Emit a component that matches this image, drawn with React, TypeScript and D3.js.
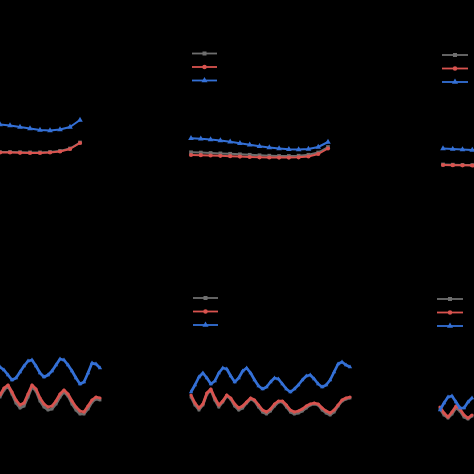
import React from "react";
import * as d3 from "d3";

// Series colours and marker shapes
const SERIES = ["gray", "red", "blue"] as const;
const COLORS: Record<string, string> = { gray: "#6e6e6e", red: "#d9534f", blue: "#3470d6" };
const SYMBOLS: Record<string, d3.SymbolType> = {
  gray: d3.symbolSquare,
  red: d3.symbolCircle,
  blue: d3.symbolTriangle,
};

// ---- Top row: smooth profiles ----
const topLeftGray = [48, 48, 47.8, 47.6, 47.6, 48, 49, 51.5, 57.5];
const topLeftRed = [47.5, 47.5, 47.2, 47, 47, 47.5, 48.5, 51, 57];
const topLeftBlue = [75.5, 74.5, 73, 71.5, 70, 69.5, 70.5, 73, 80];

const topMidGray = [47.7, 47.4, 47, 46.6, 46.2, 45.7, 45.2, 44.7, 44.3, 44, 44, 44.3, 45.2, 47.5, 53];
const topMidRed = [45, 44.8, 44.5, 44.2, 43.8, 43.4, 43, 42.7, 42.5, 42.4, 42.4, 42.7, 43.5, 46, 51.5];
const topMidBlue = [61.7, 61.2, 60.5, 59.5, 58.2, 56.7, 55.2, 53.7, 52.5, 51.5, 50.7, 50.5, 51, 53, 58];

const topRightGray = [35.5, 35.3, 35.1, 34.9, 34.8];
const topRightRed = [35, 34.8, 34.7, 34.5, 34.4];
const topRightBlue = [51.5, 51, 50.5, 50, 49.6];

// ---- Bottom row: oscillating series ----
const botLeftGray = [33, 40, 44, 36, 27, 22, 24, 33, 43, 39, 29, 23, 20, 21, 26, 33, 38, 34, 26, 20, 16, 16, 21, 28, 31, 30];
const botLeftRed = [35, 42, 45, 38, 30, 25, 27, 36, 45, 41, 32, 26, 23, 24, 29, 36, 40, 36, 29, 23, 19, 18, 24, 30, 33, 32];
const botLeftBlue = [63, 60, 55, 50, 52, 58, 64, 69, 70, 64, 57, 53, 55, 59, 65, 71, 70, 65, 59, 52, 46, 48, 57, 67, 66, 62];

const botMidGray = [33, 25, 20, 25, 36, 40, 30, 23, 28, 34, 31, 24, 20, 22, 27, 31, 29, 23, 18, 16, 19, 24, 28, 28, 23, 18, 16, 17, 19, 22, 25, 26, 25, 20, 17, 15, 18, 24, 29, 31, 32];
const botMidRed = [35, 27, 22, 26, 37, 41, 32, 25, 29, 35, 32, 26, 22, 24, 28, 32, 30, 25, 20, 18, 21, 26, 29, 29, 25, 20, 18, 19, 21, 24, 26, 27, 26, 22, 19, 17, 20, 25, 30, 32, 33];
const botMidBlue = [38, 45, 53, 57, 52, 46, 49, 57, 62, 61, 54, 48, 52, 59, 62, 57, 50, 44, 41, 43, 48, 52, 51, 46, 41, 38, 41, 45, 50, 54, 55, 51, 46, 43, 45, 50, 58, 66, 68, 65, 63];

const botRightGray = [21, 15, 12, 16, 22, 19, 13, 11, 14];
const botRightRed = [23, 17, 13, 18, 24, 21, 15, 12, 15];
const botRightBlue = [20, 27, 33, 34, 28, 22, 22, 28, 32];

type Panel = {
  data: Record<string, number[]>;
  x0: number;
  x1: number;
  row: "top" | "bottom";
  markerSize: number;
  legend?: { x0: number; x1: number; y: number };
};

const PANELS: Panel[] = [
  { data: { gray: topLeftGray, red: topLeftRed, blue: topLeftBlue }, x0: 0, x1: 80, row: "top", markerSize: 14 },
  { data: { gray: topMidGray, red: topMidRed, blue: topMidBlue }, x0: 191, x1: 328, row: "top", markerSize: 14, legend: { x0: 192, x1: 217, y: 53.5 } },
  { data: { gray: topRightGray, red: topRightRed, blue: topRightBlue }, x0: 443, x1: 482, row: "top", markerSize: 14, legend: { x0: 442, x1: 468, y: 55 } },
  { data: { gray: botLeftGray, red: botLeftRed, blue: botLeftBlue }, x0: 0, x1: 100, row: "bottom", markerSize: 8 },
  { data: { gray: botMidGray, red: botMidRed, blue: botMidBlue }, x0: 191, x1: 350, row: "bottom", markerSize: 8, legend: { x0: 193, x1: 218, y: 298 } },
  { data: { gray: botRightGray, red: botRightRed, blue: botRightBlue }, x0: 440, x1: 472, row: "bottom", markerSize: 8, legend: { x0: 437, x1: 463, y: 299 } },
];

const yTop = d3.scaleLinear().domain([0, 100]).range([200, 100]);
const yBottom = d3.scaleLinear().domain([0, 80]).range([430, 350]);

export default function App() {
  return (
    <svg
      width={474}
      height={474}
      style={{ position: "fixed", left: 0, top: 0, background: "#000" }}
    >
      <rect x={0} y={0} width={474} height={474} fill="#000" />
      {PANELS.map((p, pi) => {
        const y = p.row === "top" ? yTop : yBottom;
        return (
          <g key={pi}>
            {SERIES.map((s) => {
              const vals = p.data[s];
              const x = d3.scaleLinear().domain([0, vals.length - 1]).range([p.x0, p.x1]);
              const line = d3
                .line<number>()
                .x((_, i) => x(i))
                .y((d) => y(d));
              const sym = d3.symbol().type(SYMBOLS[s]).size(p.markerSize)();
              return (
                <g key={s}>
                  <path d={line(vals) ?? ""} fill="none" stroke={COLORS[s]} strokeWidth={p.row === "top" ? 2 : 2.7} strokeLinejoin="round" />
                  {vals.map((v, i) => (
                    <path key={i} d={sym ?? ""} transform={`translate(${x(i)},${y(v)})`} fill={COLORS[s]} />
                  ))}
                </g>
              );
            })}
            {p.legend &&
              SERIES.map((s, si) => {
                const ly = p.legend!.y + si * 13.5;
                const cx = (p.legend!.x0 + p.legend!.x1) / 2;
                const sym = d3.symbol().type(SYMBOLS[s]).size(16)();
                return (
                  <g key={`lg-${s}`}>
                    <line x1={p.legend!.x0} x2={p.legend!.x1} y1={ly} y2={ly} stroke={COLORS[s]} strokeWidth={1.8} />
                    <path d={sym ?? ""} transform={`translate(${cx},${ly})`} fill={COLORS[s]} />
                  </g>
                );
              })}
          </g>
        );
      })}
    </svg>
  );
}
